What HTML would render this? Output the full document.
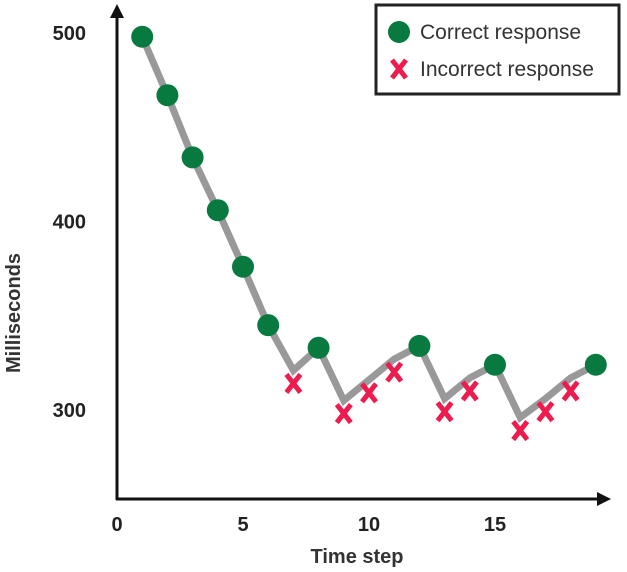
<!DOCTYPE html>
<html><head><meta charset="utf-8"><style>
body{margin:0;background:#fff;}
svg{display:block;font-family:"Liberation Sans",sans-serif;}
</style></head><body>
<svg width="627" height="572">
<g id="marks"></g>
<g>
<line x1="117" y1="500" x2="117" y2="14" stroke="#111" stroke-width="3"/>
<polygon points="117,4 110,18 124,18" fill="#111"/>
<line x1="116" y1="499" x2="600" y2="499" stroke="#111" stroke-width="3"/>
<polygon points="611,499 597,492 597,506" fill="#111"/>
</g>
<text x="20" y="313" transform="rotate(-90 20 313)" text-anchor="middle" font-weight="bold" font-size="20" fill="#333">Milliseconds</text>
<text x="357" y="563" text-anchor="middle" font-weight="bold" font-size="20" fill="#333">Time step</text>
<g id="ticks" font-weight="bold" font-size="20" fill="#222"></g>
<g>
<rect x="376" y="5" width="243" height="89" fill="#fff" stroke="#222" stroke-width="3"/>
<circle cx="399" cy="32" r="11" fill="#087a3f"/>
<text x="420" y="39" font-size="21" fill="#333">Correct response</text>
<path d="M392,60 L406,78 M406,60 L392,78" stroke="#ee1c4e" stroke-width="5" fill="none"/>
<text x="420" y="76" font-size="21" fill="#333">Incorrect response</text>
</g>
</svg>
<script>
const steps=[1,2,3,4,5,6,7,8,9,10,11,12,13,14,15,16,17,18,19];
const ms=[498,467,434,406,376,345,321,333,305,316,327,334,306,317,324,296,306,317,324];
const correct=[1,1,1,1,1,1,0,1,0,0,0,1,0,0,1,0,0,0,1];
const xTicks=[0,5,10,15];
const yTicks=[300,400,500];
const X=v=>117+v*25.2;
const Y=v=>410-(v-300)*1.885;
const NS="http://www.w3.org/2000/svg";
const marks=document.getElementById('marks');
const line=document.createElementNS(NS,'polyline');
line.setAttribute('points',steps.map((s,i)=>X(s)+','+Y(ms[i])).join(' '));
line.setAttribute('fill','none');line.setAttribute('stroke','#999');line.setAttribute('stroke-width','7');line.setAttribute('stroke-linejoin','miter');


marks.appendChild(line);
steps.forEach((s,i)=>{
 let el;
 const cx=X(s), cy=Y(ms[i]);
 if(correct[i]){
  el=document.createElementNS(NS,'circle');
  el.setAttribute('cx',cx);el.setAttribute('cy',cy);el.setAttribute('r',11);el.setAttribute('fill','#087a3f');
  
 }else{
  el=document.createElementNS(NS,'path');
  const c=cy+13;
  el.setAttribute('d',`M${cx-7},${c-9} L${cx+7},${c+9} M${cx+7},${c-9} L${cx-7},${c+9}`);
  el.setAttribute('stroke','#ee1c4e');el.setAttribute('stroke-width','5');el.setAttribute('fill','none');
  
 }
 
 marks.appendChild(el);
});
const tk=document.getElementById('ticks');
xTicks.forEach(v=>{const t=document.createElementNS(NS,'text');t.setAttribute('x',X(v));t.setAttribute('y',531);t.setAttribute('text-anchor','middle');t.textContent=v;


tk.appendChild(t);});
yTicks.forEach(v=>{const t=document.createElementNS(NS,'text');t.setAttribute('x',86);t.setAttribute('y',Y(v)+7);t.setAttribute('text-anchor','end');t.textContent=v;


tk.appendChild(t);});
</script>
</body></html>
